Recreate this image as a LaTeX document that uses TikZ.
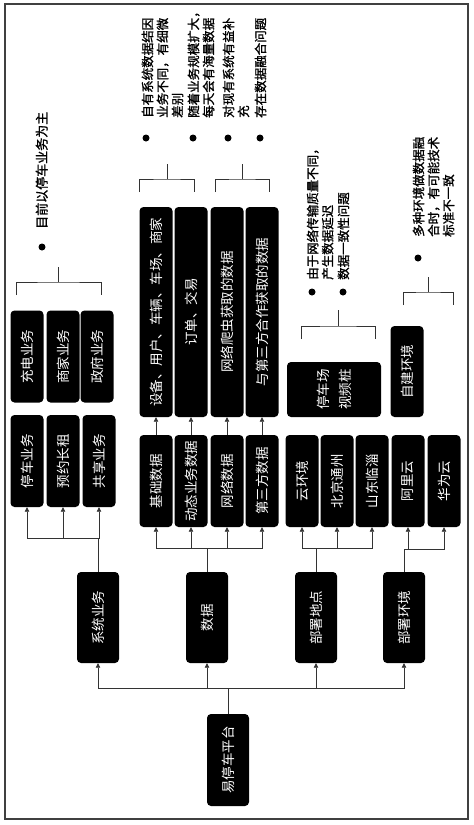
\documentclass[tikz,border=0pt]{standalone}
\usepackage{fontspec}
\newfontfamily\cjk{Noto Sans CJK SC}
\newfontfamily\cjkb[FakeBold=1.2]{Noto Sans CJK SC}
\usetikzlibrary{arrows.meta}
\tikzset{
  blk/.style  ={fill=black, text=white, rounded corners=4pt, rotate=90, inner sep=0pt,
                align=center, font=\cjk\fontsize{13.5}{22}\selectfont},
  lvl/.style  ={blk, minimum width=91pt, minimum height=42pt},
  leaf/.style ={blk, minimum width=92pt, minimum height=33pt},
  info/.style ={blk, minimum width=210pt, minimum height=33pt},
  note/.style ={rotate=90, anchor=north west, inner sep=0pt, align=left,
                font=\cjkb\fontsize{12.5}{15}\selectfont},
  dot/.style  ={circle, fill=black, inner sep=0pt, minimum size=7pt},
  ln/.style   ={line width=0.7pt, draw=black!80},
  arr/.style  ={ln, -{Triangle[length=4.5pt, width=4.5pt]}},
}

\begin{document}
\begin{tikzpicture}[x=1pt, y=-1pt]
  \useasboundingbox (0,0) rectangle (474,825);
  \draw[line width=1.2pt, black!75] (5,4) rectangle (468,819);

  % root and first level
  \node[lvl, minimum width=92pt] (root) at (228,760) {易停车平台};
  \node[lvl] (sys)  at (98,617.5)  {系统业务};
  \node[lvl] (data) at (207,617.5) {数据};
  \node[lvl] (site) at (316,617.5) {部署地点};
  \node[lvl] (env)  at (404,617.5) {部署环境};

  \coordinate (bus0) at (228,688);
  \draw[ln] (root.east) -- (bus0);
  \foreach \n in {sys, data, site, env}
    \draw[arr] (bus0) -| (\n.west);

  % system business
  \node[leaf] (park)   at (27,461)   {停车业务};
  \node[leaf] (rent)   at (63,461)   {预约长租};
  \node[leaf] (share)  at (99,461)   {共享业务};
  \node[leaf] (charge) at (27,356.5) {充电业务};
  \node[leaf] (shop)   at (63,356.5) {商家业务};
  \node[leaf] (gov)    at (97,356.5) {政府业务};

  \coordinate (bus1) at (98,538);
  \draw[ln] (sys.east) -- (bus1);
  \foreach \n in {park, rent, share}
    \draw[arr] (bus1) -| (\n.west);

  % data
  \node[leaf] (base)  at (156,481) {基础数据};
  \node[leaf] (dyn)   at (191,481) {动态业务数据};
  \node[leaf] (web)   at (227,481) {网络数据};
  \node[leaf] (third) at (262,481) {第三方数据};
  \node[info] (baseI)  at (156,312) {设备、用户、车辆、车场、商家};
  \node[info] (dynI)   at (191,312) {订单、交易};
  \node[info] (webI)   at (227,312) {网络爬虫获取的数据};
  \node[info] (thirdI) at (262,312) {与第三方合作获取的数据};

  \coordinate (bus2) at (207,548);
  \draw[ln] (data.east) -- (bus2);
  \foreach \n/\m in {base/baseI, dyn/dynI, web/webI, third/thirdI} {
    \draw[arr] (bus2) -| (\n.west);
    \draw[arr] (\n.east) -- (\m.west);
  }

  % deployment site
  \node[leaf] (cloud) at (302,481) {云环境};
  \node[leaf] (bj)    at (337,481) {北京通州};
  \node[leaf] (sd)    at (372,481) {山东临淄};
  \node[blk, minimum width=55pt, minimum height=94pt] (video) at (334,389.5) {停车场\\视频桩};

  \coordinate (bus3) at (316,548);
  \draw[ln] (site.east) -- (bus3);
  \foreach \n in {cloud, bj, sd}
    \draw[arr] (bus3) -| (\n.west);

  % deployment environment
  \node[leaf] (ali)  at (408,481)   {阿里云};
  \node[leaf] (hw)   at (444,481)   {华为云};
  \node[leaf, minimum width=91pt] (self) at (407,371.5) {自建环境};

  \coordinate (bus4) at (404,549);
  \draw[ln] (env.east) -- (bus4);
  \foreach \n in {ali, hw}
    \draw[arr] (bus4) -| (\n.west);

  % brackets: left, right, stem, bar, feet, top
  \foreach \l/\r/\m/\h/\b/\t in {16/101/58/282/295/267, 139/194/167/179/192/164,
                                  215/269/242/179/192/164, 301/375/338/326/339/310,
                                  403/453/428/292/305/277} {
    \draw[ln] (\l,\b) |- (\m,\h) -| (\r,\b);
    \draw[ln] (\m,\h) -- (\m,\t);
  }

  % remarks
  \node[dot] (d0) at (42,247) {};
  \node[note, font=\cjkb\fontsize{13}{15}\selectfont] (n0) at (35.5,229) {目前以停车业务为主};

  \node[dot] (d1) at (146,138) {};
  \node[dot] (d2) at (193,138) {};
  \node[dot] (d3) at (228,138) {};
  \node[dot] (d4) at (260,138) {};
  \node[note] (n1) at (141.5,118) {自有系统数据结因\\业务不同，有细微\\差别};
  \node[note] (n2) at (187.5,118) {随着业务规模扩大，\\每天会有海量数据};
  \node[note] (n3) at (222.5,118) {对现有系统有益补\\充};
  \node[note] (n4) at (254.5,118) {存在数据融合问题};

  \node[dot] (d5) at (312,292) {};
  \node[dot] (d6) at (343,292) {};
  \node[note] (n5) at (306.5,280) {由于网络传输质量不同，\\产生数据延迟};
  \node[note] (n6) at (337.5,280) {数据一致性问题};

  \node[dot] (d7) at (418,258) {};
  \node[note] (n7) at (412.5,237) {多种环境做数据融\\合时，有可能技术\\标准不一致};
\end{tikzpicture}
\end{document}
